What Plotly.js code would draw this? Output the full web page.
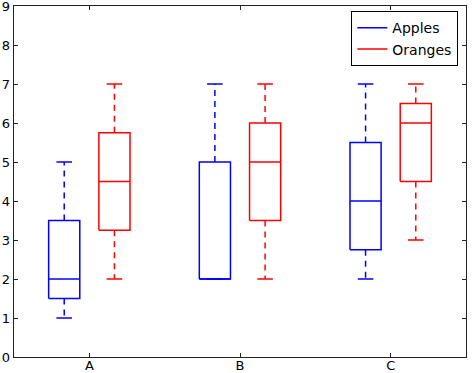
<!DOCTYPE html>
<html>
<head>
<meta charset="utf-8">
<script src="https://cdn.plot.ly/plotly-3.0.1.min.js"></script>
<style>html,body{margin:0;padding:0;background:#fff;}#chart{width:474px;height:373px;}</style>
</head>
<body>
<div id="chart"></div>
<script>
const categories = ['A', 'B', 'C'];
const seriesNames = ['Apples', 'Oranges'];
const appleLow = [1, 2, 2];
const appleQ1 = [1.5, 2, 2.75];
const appleMed = [2, 2, 4];
const appleQ3 = [3.5, 5, 5.5];
const appleHigh = [5, 7, 7];
const orangeLow = [2, 2, 3];
const orangeQ1 = [3.25, 3.5, 4.5];
const orangeMed = [4.5, 5, 6];
const orangeQ3 = [5.75, 6, 6.5];
const orangeHigh = [7, 7, 7];
const yTicks = [0, 1, 2, 3, 4, 5, 6, 7, 8, 9];

const groupStep = 3, groupStart = 1.5, offset = 0.5, halfBox = 0.31, halfCap = 0.155;
const centers = categories.map((c, i) => groupStart + groupStep * i);

function build(lo, q1, med, q3, hi, off, color, name) {
  const sx = [], sy = [], dx = [], dy = [];
  centers.forEach((c0, i) => {
    const c = c0 + off;
    sx.push(c - halfBox, c + halfBox, c + halfBox, c - halfBox, c - halfBox, null);
    sy.push(q1[i], q1[i], q3[i], q3[i], q1[i], null);
    sx.push(c - halfBox, c + halfBox, null);
    sy.push(med[i], med[i], null);
    sx.push(c - halfCap, c + halfCap, null, c - halfCap, c + halfCap, null);
    sy.push(lo[i], lo[i], null, hi[i], hi[i], null);
    dx.push(c, c, null, c, c, null);
    dy.push(q1[i], lo[i], null, q3[i], hi[i], null);
  });
  return [
    {type: 'scatter', mode: 'lines', x: dx, y: dy, name: name, legendgroup: name, showlegend: false,
     line: {color: color, width: 1.5, dash: '6px,5px'}, hoverinfo: 'skip'},
    {type: 'scatter', mode: 'lines', x: sx, y: sy, name: name, legendgroup: name, showlegend: true,
     line: {color: color, width: 1.5}, hoverinfo: 'skip'}
  ];
}

const data = [
  ...build(appleLow, appleQ1, appleMed, appleQ3, appleHigh, -offset, '#0000ff', seriesNames[0]),
  ...build(orangeLow, orangeQ1, orangeMed, orangeQ3, orangeHigh, offset, '#ff0000', seriesNames[1])
];

const layout = {
  width: 474, height: 373,
  margin: {l: 13.5, r: 7.5, t: 6, b: 15.5, pad: 0},
  paper_bgcolor: '#fff', plot_bgcolor: '#fff',
  font: {family: 'DejaVu Sans, sans-serif', size: 13, color: '#000'},
  showlegend: true,
  xaxis: {
    range: [0, 9], tickvals: centers, ticktext: categories,
    showgrid: false, zeroline: false, showline: true, linecolor: '#222', linewidth: 1.3,
    mirror: 'ticks', ticks: 'inside', ticklen: 4, tickcolor: '#222', tickwidth: 1,
    tickfont: {size: 13}, ticklabelstandoff: -4, ticklabeloverflow: 'allow', fixedrange: true
  },
  yaxis: {
    range: [0, 9], tickvals: yTicks,
    showgrid: false, zeroline: false, showline: true, linecolor: '#222', linewidth: 1.3,
    mirror: 'ticks', ticks: 'inside', ticklen: 4, tickcolor: '#222', tickwidth: 1,
    tickfont: {size: 13}, ticklabeloverflow: 'allow', fixedrange: true
  },
  legend: {
    x: 0.983, y: 0.985, xanchor: 'right', yanchor: 'top',
    bordercolor: '#000', borderwidth: 1, bgcolor: '#fff',
    font: {size: 14}, itemwidth: 30, tracegroupgap: 0
  }
};

Plotly.newPlot('chart', data, layout, {staticPlot: true, displayModeBar: false});
</script>
</body>
</html>
